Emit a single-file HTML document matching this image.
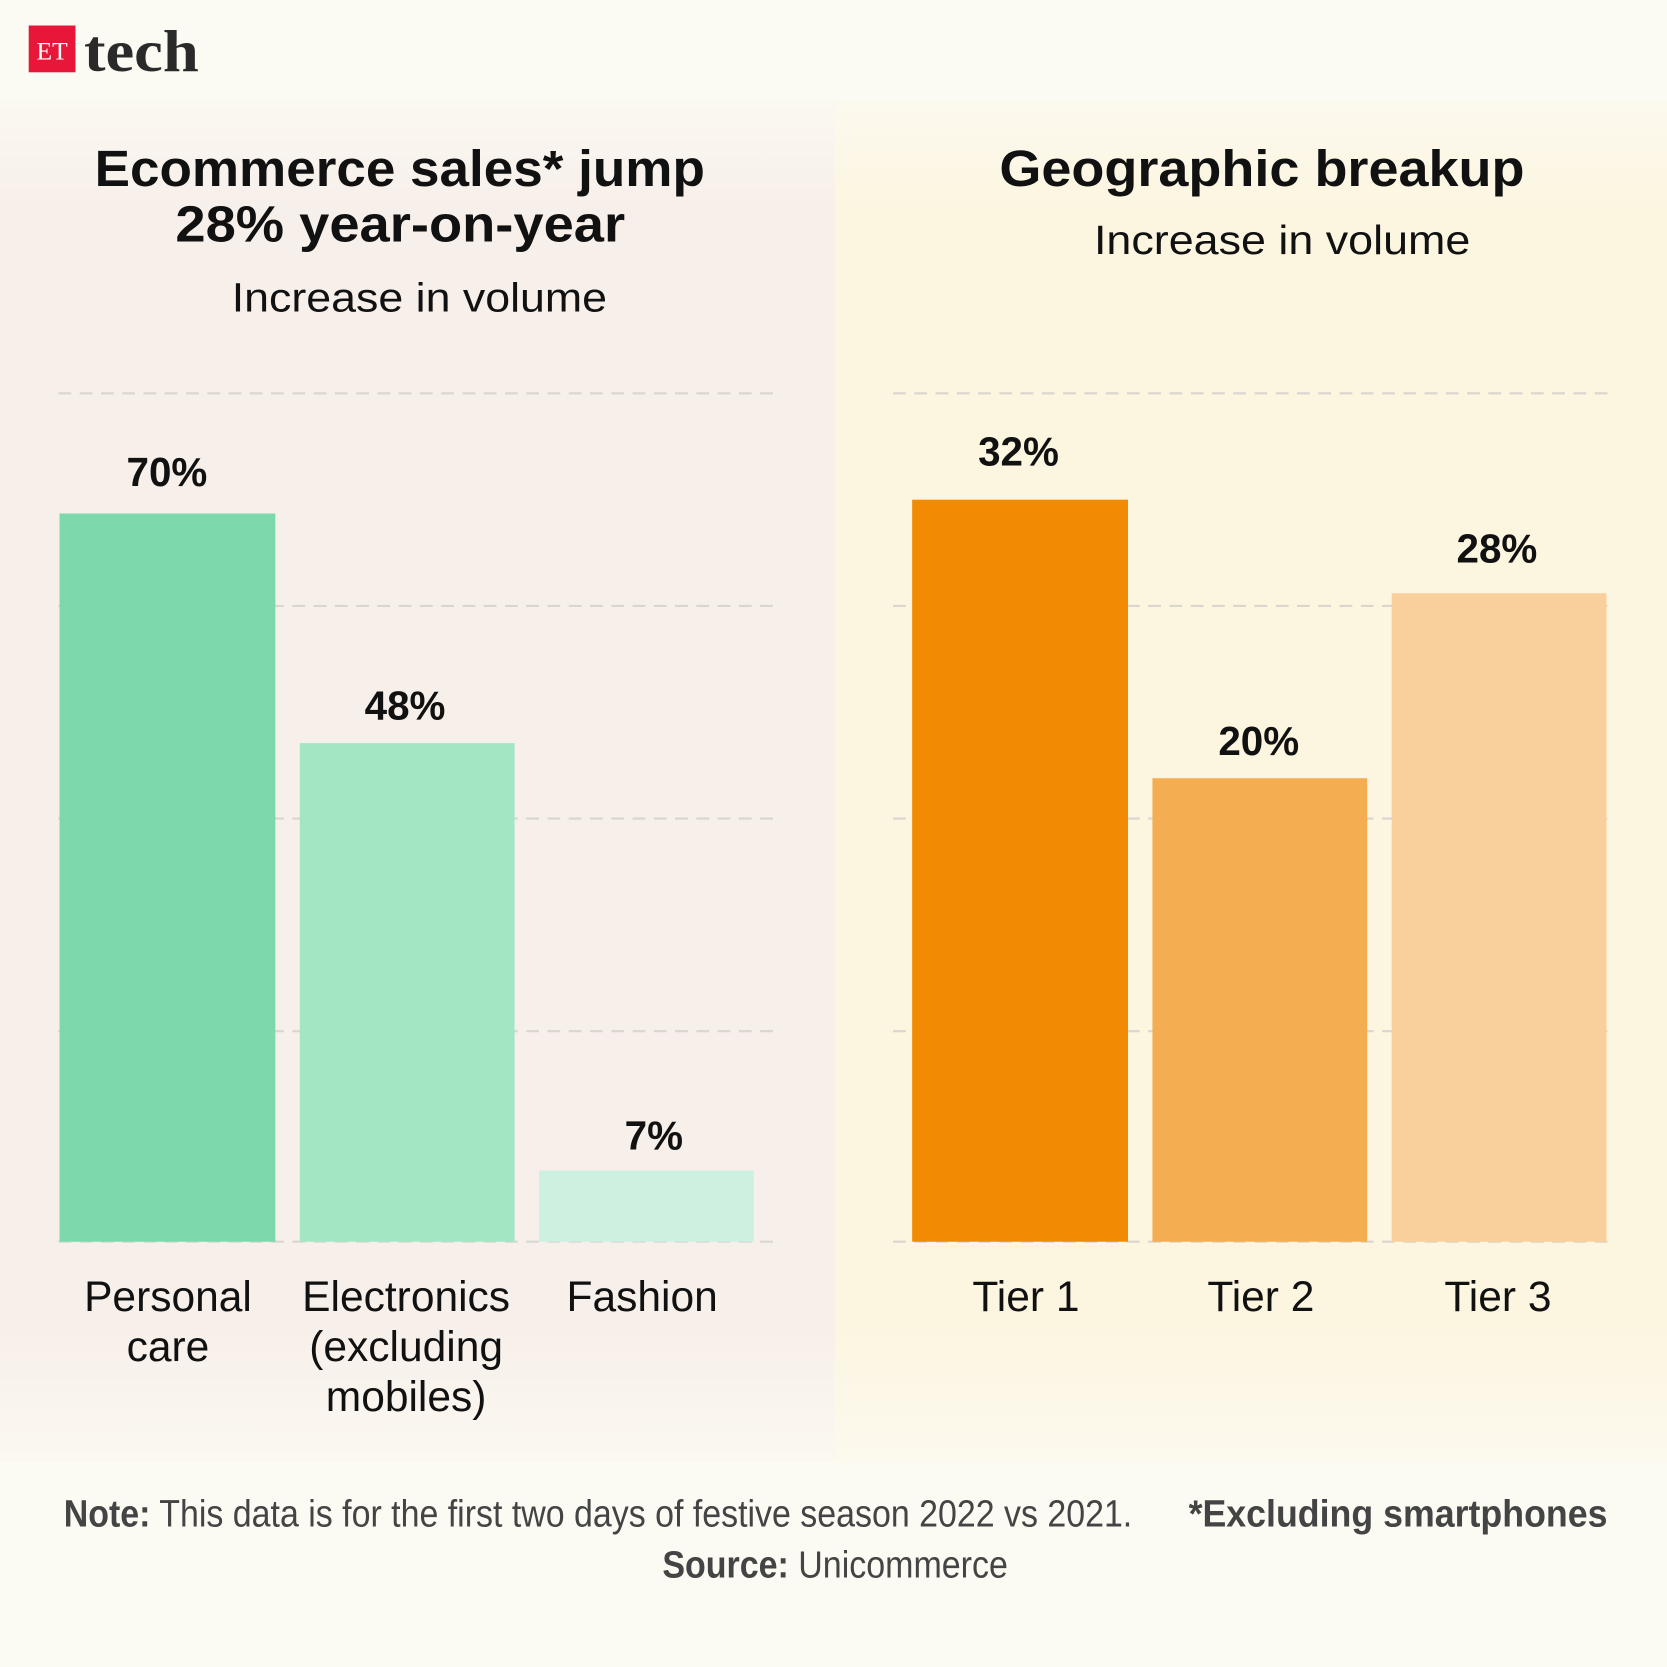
<!DOCTYPE html>
<html><head><meta charset="utf-8"><style>
html,body{margin:0;padding:0;background:#fbfaf3;}
svg{display:block;}
text{font-family:"Liberation Sans",sans-serif;fill:#111;}
</style></head><body>
<svg width="1667" height="1667" viewBox="0 0 1568 1568" xmlns="http://www.w3.org/2000/svg">
<defs>
<linearGradient id="lp" x1="0" y1="0" x2="0" y2="1"><stop offset="0" stop-color="#fbf8f1"/><stop offset="0.08" stop-color="#f7efea"/><stop offset="0.9" stop-color="#f7efea"/><stop offset="1" stop-color="#fbf8f1"/></linearGradient>
<linearGradient id="rp" x1="0" y1="0" x2="0" y2="1"><stop offset="0" stop-color="#fcf9ee"/><stop offset="0.08" stop-color="#fcf5e0"/><stop offset="0.9" stop-color="#fcf5e0"/><stop offset="1" stop-color="#fcf9ee"/></linearGradient>
</defs>
<rect width="1568" height="1568" fill="#fbfaf3"/>
<rect x="0" y="95" width="785" height="1280" fill="url(#lp)"/>
<rect x="785" y="95" width="783" height="1280" fill="url(#rp)"/>
<!-- logo -->
<rect x="27" y="24" width="44" height="44" fill="#e8173a"/>
<text x="49" y="56" text-anchor="middle" style="font-family:'Liberation Serif',serif;font-size:24px;fill:#fff">ET</text>
<text x="79" y="67" style="font-family:'Liberation Serif',serif;font-size:56px;font-weight:bold;fill:#2a2a2a" textLength="108" lengthAdjust="spacingAndGlyphs">tech</text>
<!-- titles -->
<text x="89" y="175" style="font-size:48px;font-weight:bold" textLength="574" lengthAdjust="spacingAndGlyphs">Ecommerce sales* jump</text>
<text x="165" y="227" style="font-size:48px;font-weight:bold" textLength="423" lengthAdjust="spacingAndGlyphs">28% year-on-year</text>
<text x="218" y="293" style="font-size:38px" textLength="353" lengthAdjust="spacingAndGlyphs">Increase in volume</text>
<text x="940" y="175" style="font-size:48px;font-weight:bold" textLength="494" lengthAdjust="spacingAndGlyphs">Geographic breakup</text>
<text x="1029" y="239" style="font-size:38px" textLength="354" lengthAdjust="spacingAndGlyphs">Increase in volume</text>
<!-- grid -->
<g stroke="#d9d5cf" stroke-width="2" stroke-dasharray="12 8">
<line x1="55" y1="370" x2="730" y2="370"/><line x1="55" y1="570" x2="730" y2="570"/><line x1="55" y1="770" x2="730" y2="770"/><line x1="55" y1="970" x2="730" y2="970"/><line x1="55" y1="1168" x2="730" y2="1168"/>
<line x1="840" y1="370" x2="1515" y2="370"/><line x1="840" y1="570" x2="1515" y2="570"/><line x1="840" y1="770" x2="1515" y2="770"/><line x1="840" y1="970" x2="1515" y2="970"/><line x1="840" y1="1168" x2="1515" y2="1168"/>
</g>
<!-- bars -->
<rect x="56" y="483" width="203" height="685" fill="#7dd9ab"/>
<rect x="282" y="699" width="202" height="469" fill="#a3e6c4"/>
<rect x="507" y="1101" width="202" height="67" fill="#cdf0e0"/>
<rect x="858" y="470" width="203" height="698" fill="#f28a04"/>
<rect x="1084" y="732" width="202" height="436" fill="#f5ad52"/>
<rect x="1309" y="558" width="202" height="610" fill="#f9d09c"/>
<!-- values -->
<g style="font-size:38px;font-weight:bold" text-anchor="middle">
<text x="157" y="457">70%</text><text x="381" y="677">48%</text><text x="615" y="1081">7%</text>
<text x="958" y="438">32%</text><text x="1184" y="710">20%</text><text x="1408" y="529">28%</text>
</g>
<!-- categories -->
<g style="font-size:40px" text-anchor="middle">
<text x="158" y="1233">Personal</text><text x="158" y="1280">care</text>
<text x="382" y="1233">Electronics</text><text x="382" y="1280">(excluding</text><text x="382" y="1327">mobiles)</text>
<text x="604" y="1233">Fashion</text>
<text x="965" y="1233">Tier 1</text><text x="1186" y="1233">Tier 2</text><text x="1409" y="1233">Tier 3</text>
</g>
<!-- note -->
<text x="60" y="1436" style="font-size:36px;fill:#444" textLength="1005" lengthAdjust="spacingAndGlyphs"><tspan font-weight="bold">Note:</tspan> This data is for the first two days of festive season 2022 vs 2021.</text>
<text x="1118" y="1436" style="font-size:36px;font-weight:bold;fill:#444" textLength="394" lengthAdjust="spacingAndGlyphs">*Excluding smartphones</text>
<text x="623" y="1484" style="font-size:36px;fill:#444" textLength="325" lengthAdjust="spacingAndGlyphs"><tspan font-weight="bold">Source:</tspan> Unicommerce</text>
</svg>
</body></html>
